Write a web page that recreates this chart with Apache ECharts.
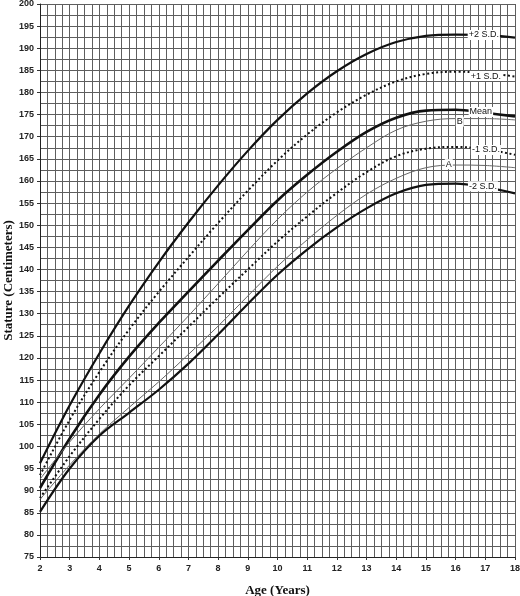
<!DOCTYPE html>
<html>
<head>
<meta charset="utf-8">
<script src="https://cdn.jsdelivr.net/npm/echarts@6/dist/echarts.min.js"></script>
<style>
html,body{margin:0;padding:0;background:#fff;}
#c{width:520px;height:596px;}
</style>
</head>
<body>
<div id="c"></div>
<script>
const ages = [2,3,4,5,6,7,8,9,10,11,12,13,14,15,16,17,18];
const plus2SD  = [96.2,109.3,121.0,131.8,141.6,150.6,159.0,166.8,173.8,179.8,184.8,188.7,191.4,192.8,193.1,193.0,192.4];
const plus1SD  = [93.5,106.0,116.8,126.4,134.9,142.8,150.5,157.8,164.6,170.5,175.5,179.5,182.5,184.2,184.7,184.4,183.6];
const meanSD   = [90.6,101.8,111.7,120.3,127.9,135.0,142.0,148.9,155.6,161.4,166.6,171.1,174.3,175.9,176.1,175.4,174.6];
const curveB   = [92.6,101.0,108.5,115.4,122.4,129.5,136.8,144.2,151.3,157.5,162.8,167.5,171.5,173.5,174.1,174.1,173.8];
const minus1SD = [88.3,97.8,106.2,113.8,120.4,127.0,133.6,140.0,146.3,152.0,157.3,162.0,165.6,167.3,167.7,167.2,165.9];
const curveA   = [88.0,95.8,102.8,108.8,114.6,120.8,127.2,134.0,140.7,146.7,152.2,157.0,160.6,163.0,163.6,163.5,163.0];
const minus2SD = [85.2,95.0,102.4,107.6,112.8,118.7,125.3,132.2,138.8,144.5,149.5,153.8,157.2,159.1,159.4,158.6,157.2];

const curveNames  = ['+2 S.D.','+1 S.D.','Mean','B','-1 S.D.','A','-2 S.D.'];
const labelAges   = [16.95,17.02,16.85,16.14,17.02,15.77,16.92];
const labelValues = [193.0,183.7,175.6,173.4,167.0,163.8,158.8];

const curves = [plus2SD, plus1SD, meanSD, curveB, minus1SD, curveA, minus2SD];
const styles = [
  {color:'#111', width:2.2, type:'solid'},
  {color:'#111', width:2, type:[2,2.5]},
  {color:'#111', width:2.6, type:'solid'},
  {color:'#666', width:1, type:'solid'},
  {color:'#111', width:2, type:[2,2.5]},
  {color:'#666', width:1, type:'solid'},
  {color:'#111', width:2.2, type:'solid'}
];

const series = curves.map((vals, i) => ({
  type:'line',
  name: curveNames[i],
  data: ages.map((a, j) => [a, vals[j]]),
  smooth: 0.35,
  showSymbol:false,
  symbol:'none',
  lineStyle: styles[i],
  z: 3
}));

series.push({
  type:'scatter',
  data: curveNames.map((n, i) => ({name:n, value:[labelAges[i], labelValues[i]]})),
  symbolSize: 0,
  itemStyle:{color:'#fff', opacity:1},
  label:{
    show:true, position:'inside', formatter:'{b}', opacity:1,
    fontFamily:'Liberation Sans, Arial', fontSize:9, color:'#111',
    backgroundColor:'#fff', padding:[1,1,0,1]
  },
  z: 10,
  silent:true
});

const chart = echarts.init(document.getElementById('c'), null, {renderer:'canvas'});
chart.setOption({
  animation:false,
  backgroundColor:'#fff',
  grid:{left:40, right:5, top:4, bottom:39, containLabel:false, outerBoundsMode:'none'},
  xAxis:{
    type:'value', min:2, max:18, interval:1,
    name:'Age (Years)', nameLocation:'middle', nameGap:27, nameMoveOverlap:false,
    nameTextStyle:{fontFamily:'Liberation Serif, Times New Roman', fontWeight:'bold', fontSize:13, color:'#111'},
    axisLine:{show:true, lineStyle:{color:'#222', width:1}},
    axisTick:{show:true, length:3, lineStyle:{color:'#333'}},
    axisLabel:{fontFamily:'Liberation Sans, Arial', fontWeight:'bold', fontSize:9, color:'#222', margin:7},
    splitLine:{show:true, lineStyle:{color:'#5e5e5e', width:1}},
    minorTick:{show:false, splitNumber:4},
    minorSplitLine:{show:true, lineStyle:{color:'#5e5e5e', width:1}}
  },
  yAxis:{
    type:'value', min:75, max:200, interval:5,
    name:'Stature (Centimeters)', nameLocation:'middle', nameGap:25, nameMoveOverlap:false,
    nameTextStyle:{fontFamily:'Liberation Serif, Times New Roman', fontWeight:'bold', fontSize:13, color:'#111'},
    axisLine:{show:true, lineStyle:{color:'#222', width:1}},
    axisTick:{show:true, length:3, lineStyle:{color:'#333'}},
    axisLabel:{fontFamily:'Liberation Sans, Arial', fontWeight:'bold', fontSize:9, color:'#222', margin:6},
    splitLine:{show:true, lineStyle:{color:'#5e5e5e', width:1}},
    minorTick:{show:false, splitNumber:2},
    minorSplitLine:{show:true, lineStyle:{color:'#5e5e5e', width:1}}
  },
  series: series
});
</script>
</body>
</html>
